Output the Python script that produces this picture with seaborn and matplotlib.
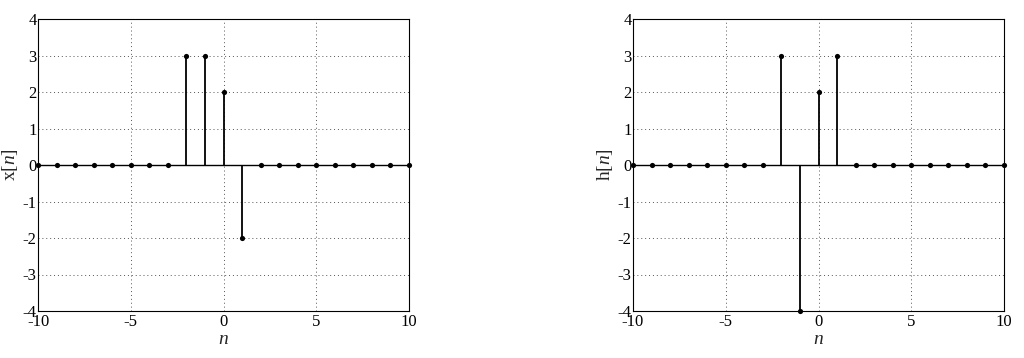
import numpy as np
import pandas as pd
import matplotlib
matplotlib.use("Agg")
import matplotlib.pyplot as plt
import seaborn as sns

n_vals = list(range(-10, 11))
x_vals = [0]*8 + [3, 3, 2, -2] + [0]*9
h_vals = [0]*8 + [3, -4, 2, 3] + [0]*9
x_ticks = [-10, -5, 0, 5, 10]
y_ticks = [-4, -3, -2, -1, 0, 1, 2, 3, 4]

sns.set_style("white")
plt.rcParams['font.family'] = ['Liberation Serif', 'DejaVu Serif']
plt.rcParams['mathtext.fontset'] = 'custom'
plt.rcParams['mathtext.it'] = 'Liberation Serif:italic'
plt.rcParams['mathtext.rm'] = 'Liberation Serif'
plt.rcParams['axes.unicode_minus'] = False

fig = plt.figure(figsize=(10.24, 3.58), dpi=100)
ax1 = fig.add_axes([38/1024, 1-311/358, 371/1024, 292/358])
ax2 = fig.add_axes([633/1024, 1-311/358, 371/1024, 292/358])

for ax, vals, lab in [(ax1, x_vals, "x[$n$]"), (ax2, h_vals, "h[$n$]")]:
    df = pd.DataFrame({"n": n_vals, "v": vals})
    ax.axhline(0, color="black", lw=1.0, zorder=2)
    ax.vlines(df["n"], 0, df["v"], color="black", lw=1.3, zorder=3)
    sns.scatterplot(data=df, x="n", y="v", ax=ax, color="black", s=14,
                    edgecolor="black", linewidth=0, zorder=4, clip_on=False)
    ax.set_xlim(-10, 10)
    ax.set_ylim(-4, 4)
    ax.set_xticks(x_ticks)
    ax.set_yticks(y_ticks)
    ax.grid(True, linestyle=(0, (1, 3)), color="#555555", lw=0.7)
    ax.tick_params(direction="in", length=3, labelsize=12, colors="black")
    ax.tick_params(axis="y", pad=1)
    ax.tick_params(axis="x", pad=2)
    for s in ax.spines.values():
        s.set_color("black")
        s.set_linewidth(0.8)
    ax.set_xlabel("$n$", fontsize=14, labelpad=1)
    ax.set_ylabel(lab, fontsize=14, labelpad=2)
    ax.set_axisbelow(True)

fig.savefig("out.png", dpi=100, facecolor="white")
